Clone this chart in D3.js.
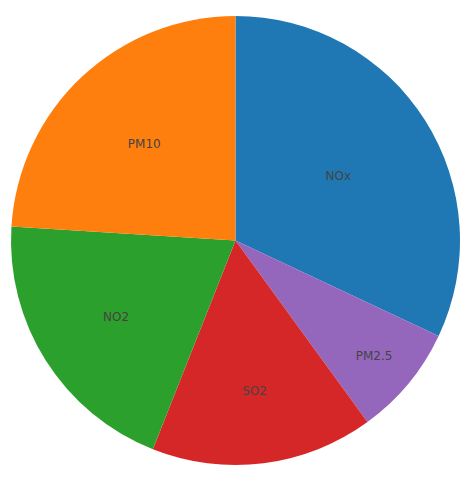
<!DOCTYPE html>
<html>
<head>
<meta charset="utf-8">
<script src="https://cdn.jsdelivr.net/npm/d3@7"></script>
<style>
  html, body { margin: 0; padding: 0; background: #fff; }
  #chart { width: 474px; height: 481px; }
  .slice-label { font-family: "DejaVu Sans", Verdana, sans-serif; font-size: 12px; fill: #444; }
</style>
</head>
<body>
<div id="chart"></div>
<script>
// Slices in clockwise order starting at 12 o'clock
const labels = ['NOx', 'PM2.5', 'SO2', 'NO2', 'PM10'];
const values = [32, 8, 16, 20, 24];
const colors = ['#1f77b4', '#9467bd', '#d62728', '#2ca02c', '#ff7f0e'];

const width = 474, height = 481;
const cx = 235.5, cy = 240.5;
const radius = 224.5;

const svg = d3.select('#chart')
    .append('svg')
    .attr('width', width)
    .attr('height', height);

const g = svg.append('g')
    .attr('transform', `translate(${cx},${cy})`);

const pie = d3.pie()
    .sort(null)
    .value(d => d.value);

const arcs = pie(labels.map((l, i) => ({ label: l, value: values[i], color: colors[i] })));

const arc = d3.arc()
    .innerRadius(0)
    .outerRadius(radius);

g.selectAll('path.slice')
    .data(arcs)
    .enter()
    .append('path')
    .attr('class', 'slice')
    .attr('d', arc)
    .attr('fill', d => d.data.color);

// Label sits at the centre of the largest circle inscribed in the wedge
function labelPos(d) {
    const half = (d.endAngle - d.startAngle) / 2;
    const mid = d.startAngle + half;
    const r = half < Math.PI / 2 ? radius / (1 + Math.sin(half)) : radius / 2;
    return [Math.sin(mid) * r, -Math.cos(mid) * r];
}

g.selectAll('text.slice-label')
    .data(arcs)
    .enter()
    .append('text')
    .attr('class', 'slice-label')
    .attr('text-anchor', 'middle')
    .attr('dy', '0.38em')
    .attr('x', d => labelPos(d)[0])
    .attr('y', d => labelPos(d)[1])
    .text(d => d.data.label);
</script>
</body>
</html>
